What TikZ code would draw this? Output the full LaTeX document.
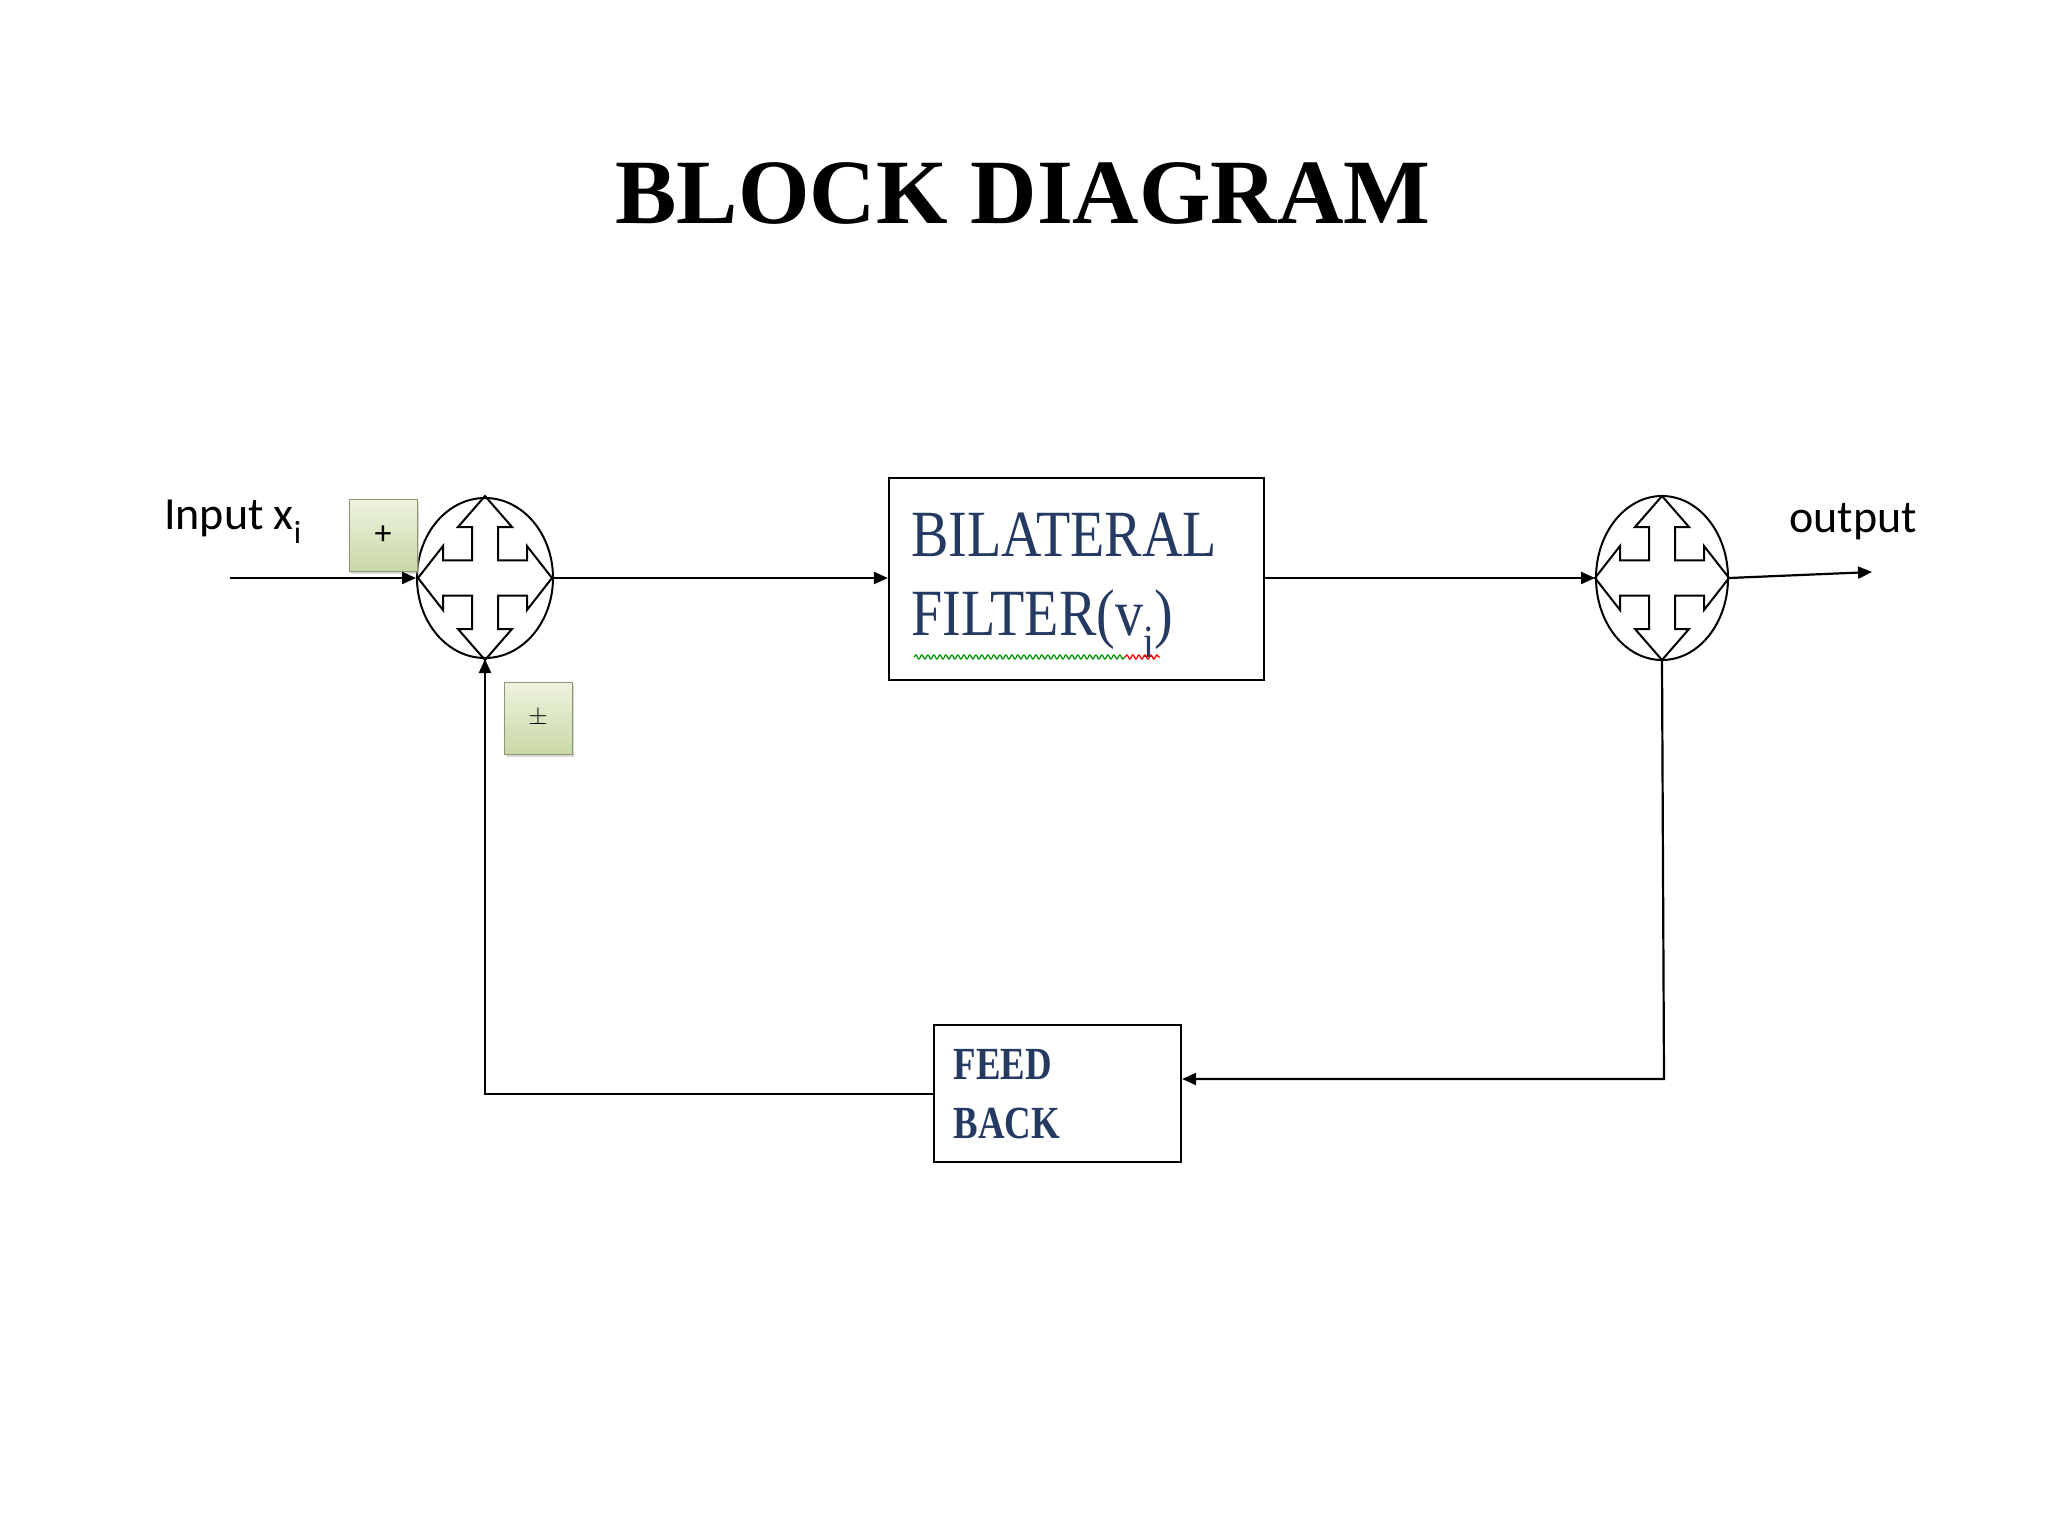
\documentclass[tikz,border=0pt]{standalone}
\usepackage{fontspec}
\setmainfont{Liberation Serif}
\newfontfamily\carl{Carlito}
\usetikzlibrary{shapes.geometric,arrows.meta,decorations.pathmorphing,shadows}
\definecolor{fblue}{HTML}{243A63}
\definecolor{gA}{HTML}{EEF3DF}
\definecolor{gB}{HTML}{C9D8A6}
\begin{document}
\begin{tikzpicture}[x=1pt,y=-1pt,
  line/.style={line width=2.2pt,black},
  arr/.style={line,-{Triangle[length=14pt,width=12pt]}},
  junc/.style={ellipse,draw,line width=2pt,inner sep=0pt},
  gbox/.style={draw=gB!70!black,line width=0.6pt,top color=gA,bottom color=gB,minimum width=68pt,minimum height=72pt,inner sep=0pt,drop shadow={shadow xshift=2pt,shadow yshift=-3pt,fill=gray!60},font=\carl\fontsize{34}{34}\selectfont},
  blk/.style={draw,line width=2.2pt,inner sep=0pt},
  cross/.pic={\draw[line width=2pt]
     (0,-82)--(27,-51)--(13,-51)--(13,-17.6)--(42,-17.6)--(42,-32)--(67,0)--(42,32)--(42,17.6)--(13,17.6)--(13,51)--(27,51)--(0,82)
     --(-27,51)--(-13,51)--(-13,17.6)--(-42,17.6)--(-42,32)--(-67,0)--(-42,-32)--(-42,-17.6)--(-13,-17.6)--(-13,-51)--(-27,-51)--cycle;}
]
\useasboundingbox (0,0) rectangle (2048,1536);
\node (title) at (1023,193) {\bfseries\fontsize{92}{92}\selectfont BLOCK DIAGRAM};

\node[junc,minimum width=136pt,minimum height=160pt] (j1) at (485,578) {};
\pic at (485,578) {cross};
\node[junc,minimum width=132pt,minimum height=164pt] (j2) at (1662,578) {};
\pic at (1662,578) {cross};

\node[font=\carl\fontsize{46}{46}\selectfont] (in) at (233,522) {Input x\textsubscript{i}};
\node[font=\carl\fontsize{46}{46}\selectfont] (out) at (1853,522) {output};
\coordinate (inS) at (230,578);
\coordinate (outE) at (1872,572);

\node[blk,minimum width=375pt,minimum height=202pt] (filt) at (1076.5,579) {};
\node[anchor=west,text=fblue,font=\fontsize{66}{66}\selectfont] (t1) at (908,535) {\scalebox{0.85}[1]{BILATERAL}};
\node[anchor=west,text=fblue,font=\fontsize{66}{66}\selectfont] (t2) at (908,624) {\scalebox{0.85}[1]{FILTER(v\textsubscript{i})}};
\draw[green!60!black,line width=1.3pt,decorate,decoration={snake,amplitude=2pt,segment length=6pt}] (914,657)--(1125,657);
\draw[red,line width=1.3pt,decorate,decoration={snake,amplitude=2pt,segment length=6pt}] (1125,657)--(1160,657);

\node[blk,minimum width=247pt,minimum height=137pt] (fb) at (1057.5,1093.5) {};
\node[anchor=west,text=fblue,font=\bfseries\fontsize{46}{46}\selectfont] (f1) at (950,1064) {\scalebox{0.8}[1]{FEED}};
\node[anchor=west,text=fblue,font=\bfseries\fontsize{46}{46}\selectfont] (f2) at (950,1123) {\scalebox{0.8}[1]{BACK}};

\node[gbox] (plus) at (383,535) {+};
\node[gbox,font=\fontsize{50}{50}\selectfont] (pm) at (538,718) {$\pm$};

\draw[arr] (inS) -- (j1.west);
\draw[arr] (j1.east) -- (j1.east -| filt.west);
\draw[arr] (filt.east |- j2.west) -- (j2.west);
\draw[arr] (j2.east) -- (outE);
\draw[arr] (j2.south) -- (1664,1079) -- (fb.east |- 0,1079);
\draw[arr] (fb.west |- 0,1094) -- (485,1094) -- (j1.south);
\end{tikzpicture}
\end{document}
